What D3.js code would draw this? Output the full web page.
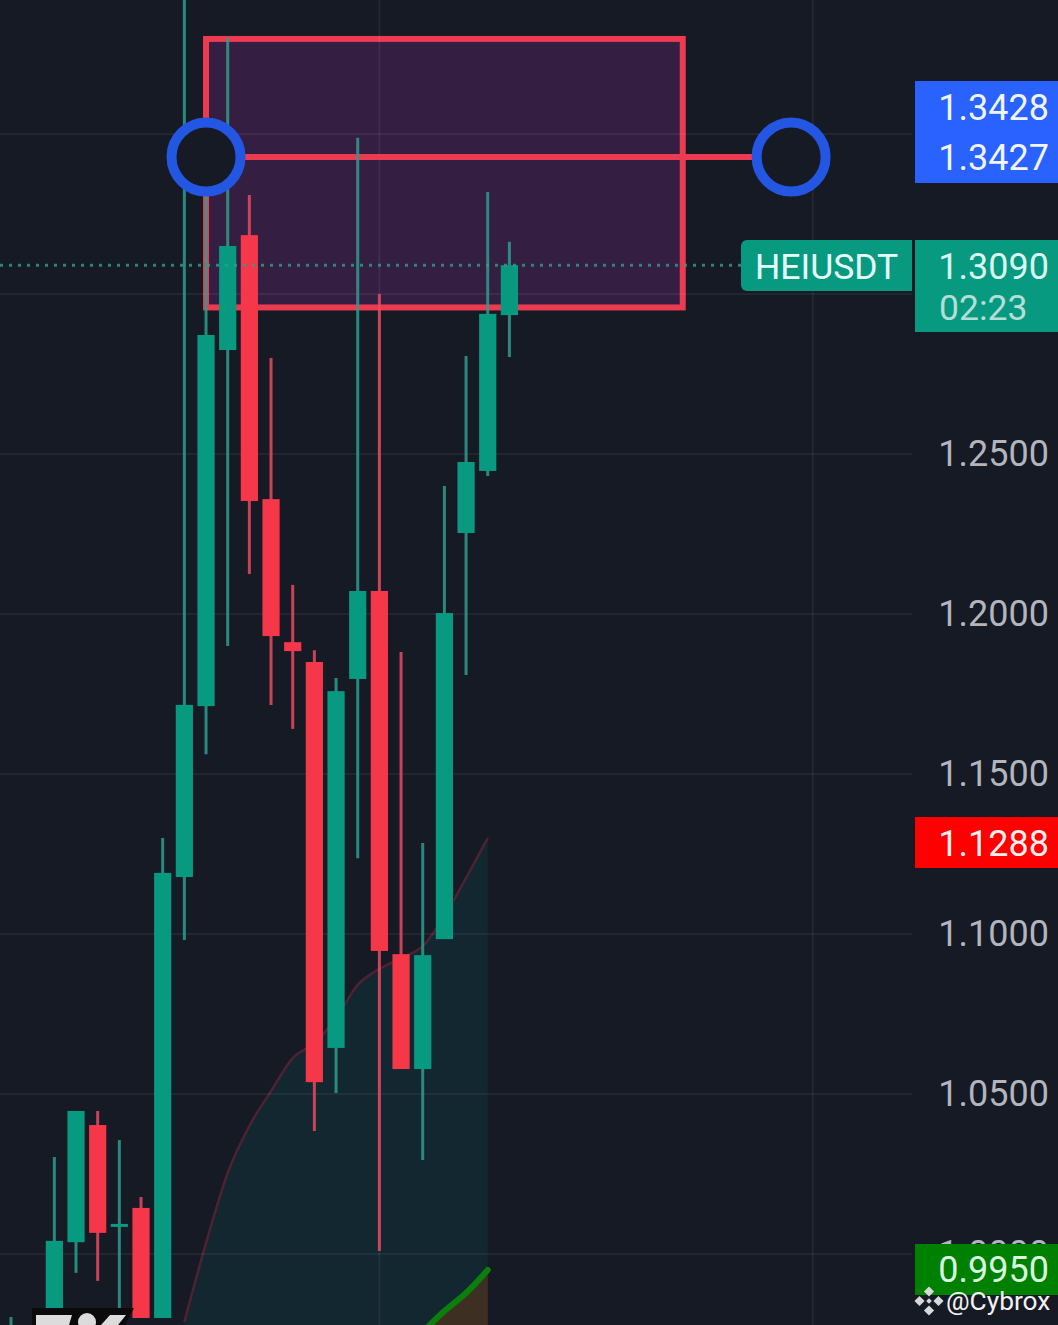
<!DOCTYPE html>
<html>
<head>
<meta charset="utf-8">
<script src="https://cdnjs.cloudflare.com/ajax/libs/d3/7.8.5/d3.min.js"></script>
<style>
html, body { margin: 0; padding: 0; background: #161a25; overflow: hidden; }
svg { display: block; }
text { font-family: Roboto, sans-serif; }
</style>
</head>
<body>
<svg id="chart" width="1058" height="1325"></svg>
<script>
// candles, left to right (the first two sit under the bottom edge / sticker)
var opens  = [0.9600, 0.9500, 0.9778, 1.0037, 1.0403, 1.0094, 1.0144, 0.9800, 1.1178, 1.1712, 1.2825, 1.3184, 1.2359, 1.1912, 1.1850, 1.0644, 1.1797, 1.2072, 1.0937, 1.0578, 1.0984, 1.2253, 1.2447, 1.2934];
var closes = [0.9650, 0.9550, 1.0041, 1.0447, 1.0066, 1.0094, 0.9800, 1.1191, 1.1716, 1.2872, 1.3150, 1.2353, 1.1931, 1.1884, 1.0537, 1.1759, 1.2072, 1.0947, 1.0578, 1.0934, 1.2003, 1.2475, 1.2938, 1.3090];
var highs  = [0.9803, 0.9600, 1.0303, 1.0447, 1.0447, 1.0356, 1.0178, 1.1300, 1.4000, 1.3419, 1.3800, 1.3309, 1.2800, 1.2091, 1.1887, 1.1800, 1.3488, 1.3000, 1.1881, 1.1284, 1.2400, 1.2806, 1.3319, 1.3163];
var lows   = [0.9500, 0.9450, 0.9700, 0.9941, 0.9916, 0.9831, 0.9800, 0.9800, 1.0981, 1.1562, 1.1900, 1.2125, 1.1716, 1.1641, 1.0384, 1.0503, 1.1237, 1.0009, 1.0578, 1.0294, 1.0984, 1.1809, 1.2431, 1.2803];

// indicator lines
var curveIdx    = [8, 9, 10, 11, 12, 13, 14, 15, 16, 17, 18, 19, 20, 21, 22];
var curveValues = [0.9788, 1.0034, 1.0253, 1.0400, 1.0509, 1.0612, 1.0659, 1.0737, 1.0841, 1.0891, 1.0925, 1.0962, 1.1056, 1.1175, 1.1300];
var greenIdx    = [19, 20, 21, 22];
var greenValues = [0.9756, 0.9822, 0.9878, 0.9950];

var priceTicks = [1.35, 1.30, 1.25, 1.20, 1.15, 1.10, 1.05, 1.00];
var priceLabels = [1.25, 1.20, 1.15, 1.10, 1.05, 1.00]; // 1.35 and 1.30 are covered by the price tags
var timeTicks = [17, 37];

var boxTop = 1.3797, boxBottom = 1.2958, boxLeft = 9, boxRight = 31;
var targetPrice = 1.3428, targetRight = 36;
var lastPrice = 1.3090;

var W = 1058, H = 1325, plotRight = 912;
var bg = '#161a25', up = '#089981', down = '#f63649';

var x = d3.scaleLinear().domain([0, 23]).range([11, 509.4]);
var y = d3.scaleLinear().domain([1.25, 1.00]).range([454, 1254]);

var svg = d3.select('#chart');
svg.append('rect').attr('width', W).attr('height', H).attr('fill', bg);

// area under the curve
var curve = curveIdx.map(function(d, i) { return {i: d, v: curveValues[i]}; });
var green = greenIdx.map(function(d, i) { return {i: d, v: greenValues[i]}; });
var bottomPrice = y.invert(H + 10);
var areaGen = d3.area().x(function(d) { return x(d.i); }).y0(y(bottomPrice)).y1(function(d) { return y(d.v); }).curve(d3.curveMonotoneX);
var lineGen = d3.line().x(function(d) { return x(d.i); }).y(function(d) { return y(d.v); }).curve(d3.curveMonotoneX);

svg.append('path').attr('d', areaGen(curve)).attr('fill', '#122730');
svg.append('path').attr('d', lineGen(curve)).attr('fill', 'none').attr('stroke', '#4e2231').attr('stroke-width', 2.5);
svg.append('path').attr('d', areaGen(green)).attr('fill', '#3d3023');
svg.append('path').attr('d', lineGen(green)).attr('fill', 'none').attr('stroke', '#0a7f0c')
    .attr('stroke-width', 6).attr('stroke-linecap', 'round');

// purple box
svg.append('rect')
    .attr('x', x(boxLeft)).attr('y', y(boxTop))
    .attr('width', x(boxRight) - x(boxLeft)).attr('height', y(boxBottom) - y(boxTop))
    .attr('fill', '#341f42').attr('stroke', '#ec3a50').attr('stroke-width', 6);

// grid
svg.append('g').selectAll('line').data(priceTicks).join('line')
    .attr('x1', 0).attr('x2', plotRight)
    .attr('y1', function(d) { return y(d); }).attr('y2', function(d) { return y(d); })
    .attr('stroke', '#fff').attr('stroke-opacity', 0.055).attr('stroke-width', 2);
svg.append('g').selectAll('line').data(timeTicks).join('line')
    .attr('x1', function(d) { return x(d); }).attr('x2', function(d) { return x(d); })
    .attr('y1', 0).attr('y2', H)
    .attr('stroke', '#fff').attr('stroke-opacity', 0.055).attr('stroke-width', 2);

// target line
svg.append('line')
    .attr('x1', x(boxLeft)).attr('x2', x(targetRight))
    .attr('y1', y(targetPrice)).attr('y2', y(targetPrice))
    .attr('stroke', '#ec3a50').attr('stroke-width', 6);

// candles
var candles = opens.map(function(o, i) {
    return {i: i, o: o, c: closes[i], h: highs[i], l: lows[i]};
});
function col(d) { return d.c >= d.o ? up : down; }
function wickCol(d) { return d.c >= d.o ? '#2f9c8d' : '#ea4a60'; }

svg.append('g').selectAll('line').data(candles).join('line')
    .attr('x1', function(d) { return x(d.i); }).attr('x2', function(d) { return x(d.i); })
    .attr('y1', function(d) { return y(d.h); }).attr('y2', function(d) { return y(d.l); })
    .attr('stroke', wickCol).attr('stroke-width', 3).attr('stroke-opacity', 0.85);

svg.append('g').selectAll('rect').data(candles).join('rect')
    .attr('x', function(d) { return x(d.i) - 8.6; })
    .attr('width', 17.2)
    .attr('y', function(d) { return y(Math.max(d.o, d.c)); })
    .attr('height', function(d) { return Math.max(3, Math.abs(y(d.o) - y(d.c))); })
    .attr('fill', col);

// last price dotted line
svg.append('line')
    .attr('x1', 0).attr('x2', 741)
    .attr('y1', y(lastPrice)).attr('y2', y(lastPrice))
    .attr('stroke', '#2f9c8d').attr('stroke-opacity', 0.8)
    .attr('stroke-width', 3).attr('stroke-dasharray', '3 6');

// handles
svg.append('g').selectAll('circle').data([boxLeft, targetRight]).join('circle')
    .attr('cx', function(d) { return x(d); }).attr('cy', y(targetPrice)).attr('r', 34.5)
    .attr('fill', bg).attr('stroke', '#2357e3').attr('stroke-width', 10);

// price axis
var axis = d3.axisRight(y).tickValues(priceLabels).tickSize(0).tickPadding(0).tickFormat(d3.format('.4f'));
var axisG = svg.append('g').attr('transform', 'translate(1049,0)').call(axis);
axisG.select('.domain').remove();
axisG.selectAll('text')
    .attr('text-anchor', 'end').attr('dy', '0.33em')
    .attr('fill', '#b2b5be').style('font-size', '36px');

// price labels
var labelBoxes = [
    {x: 915, y: 81, w: 143, h: 102, fill: '#2962ff'},
    {x: 915, y: 240, w: 143, h: 92, fill: up},
    {x: 915, y: 817, w: 143, h: 51, fill: '#ff0000'},
    {x: 915, y: 1244, w: 143, h: 51, fill: '#008000'}
];
svg.append('g').selectAll('rect').data(labelBoxes).join('rect')
    .attr('x', function(d) { return d.x; }).attr('y', function(d) { return d.y; })
    .attr('width', function(d) { return d.w; }).attr('height', function(d) { return d.h; })
    .attr('fill', function(d) { return d.fill; });

var labelTexts = [
    {t: '1.3428', y: 119.5, fill: '#fff', o: 0.95},
    {t: '1.3427', y: 170, fill: '#fff', o: 0.95},
    {t: '1.3090', y: 278.5, fill: '#e6fff8', o: 0.95},
    {t: '1.1288', y: 856, fill: '#fff', o: 0.95},
    {t: '0.9950', y: 1282, fill: '#e6fff0', o: 0.95}
];
svg.append('g').selectAll('text').data(labelTexts).join('text')
    .attr('x', 1049).attr('y', function(d) { return d.y; })
    .attr('text-anchor', 'end').attr('fill', function(d) { return d.fill; })
    .attr('fill-opacity', function(d) { return d.o; })
    .style('font-size', '36px')
    .text(function(d) { return d.t; });

svg.append('text').attr('x', 939).attr('y', 320).attr('fill', '#fff').attr('fill-opacity', 0.7)
    .style('font-size', '35.5px').text('02:23');

// symbol tag, rounded on the left only
svg.append('path')
    .attr('d', 'M912,240H747a6,6 0 0 0 -6,6V285a6,6 0 0 0 6,6H912Z')
    .attr('fill', up);
svg.append('text').attr('x', 755).attr('y', 279).attr('fill', '#e6fff8')
    .style('font-size', '35.5px').text('HEIUSDT');

// sticker cut off by the bottom edge
svg.append('path').attr('d', 'M32,1308H134L125,1325H32Z').attr('fill', '#0b0b0c');
svg.append('path').attr('d', 'M36,1315H72L69,1325H36Z').attr('fill', '#dcdcdc');
svg.append('circle').attr('cx', 87).attr('cy', 1322).attr('r', 9).attr('fill', '#dcdcdc');
svg.append('path').attr('d', 'M110,1315H126L118,1325H101Z').attr('fill', '#dcdcdc');

// watermark
var mark = svg.append('g').attr('transform', 'translate(929,1301)').attr('fill', '#d8d8d8');
[[0, -9.5], [-9.5, 0], [9.5, 0], [0, 9.5]].forEach(function(p) {
    mark.append('rect').attr('x', -3.6).attr('y', -3.6).attr('width', 7.2).attr('height', 7.2)
        .attr('transform', 'translate(' + p[0] + ',' + p[1] + ') rotate(45)');
});
mark.append('rect').attr('x', -2).attr('y', -2).attr('width', 4).attr('height', 4).attr('transform', 'rotate(45)');
svg.append('text').attr('x', 946).attr('y', 1310).attr('fill', '#f2f2f2')
    .style('font-size', '26.3px').text('@Cybrox');
</script>
</body>
</html>
